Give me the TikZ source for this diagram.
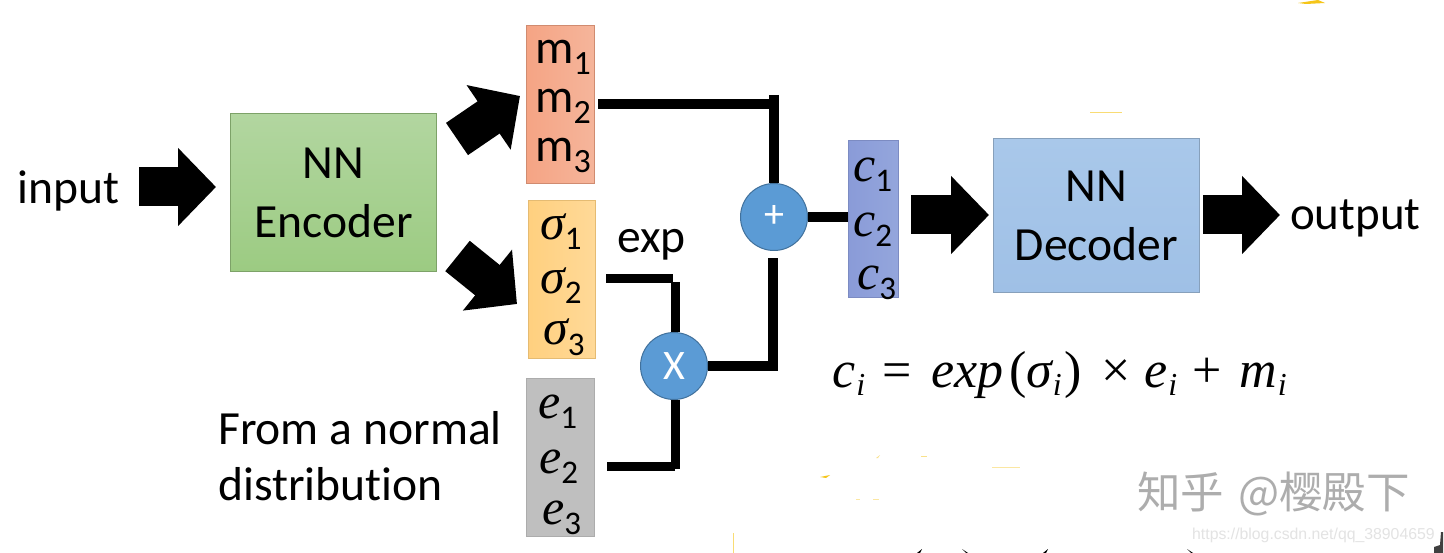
\documentclass[tikz,border=0pt]{standalone}
\usepackage{fontspec}
\setmainfont{Carlito}[Ligatures=NoCommon]
\newfontfamily\eqfont{Liberation Serif}
\newfontfamily\cjkfont{Noto Sans CJK SC}
\newfontfamily\urlfont{Liberation Sans}
\usetikzlibrary{arrows.meta,calc,positioning}
\newcommand{\txsize}{\fontsize{47.6}{58}\selectfont}
\newcommand{\vecsym}[2]{{\fontsize{50}{50}\selectfont\eqfont\itshape #1\raisebox{-10pt}{\fontsize{33}{33}\selectfont\normalfont\rmfamily #2}}}
\newcommand{\vecrom}[2]{{\fontsize{48}{48}\selectfont #1\raisebox{-11pt}{\fontsize{34}{34}\selectfont #2}}}
\newcommand{\subi}{\hspace{1pt}\raisebox{-8pt}{\fontsize{32}{32}\selectfont i}}
\newcommand{\piece}[2]{\makebox[#1pt][l]{#2}}
\definecolor{mcol}{HTML}{F5A484}
\definecolor{mcor}{HTML}{F5B59B}
\definecolor{scol}{HTML}{FFD07F}
\definecolor{scor}{HTML}{FFD998}
\definecolor{ecol}{HTML}{BFBFBF}
\definecolor{ccol}{HTML}{8A9BD8}
\definecolor{ccor}{HTML}{94A6DC}
\definecolor{encl}{HTML}{B2D6A0}
\definecolor{encd}{HTML}{9CCB82}
\definecolor{decl}{HTML}{A9C8EA}
\definecolor{decd}{HTML}{9FC0E6}
\definecolor{opblue}{HTML}{5B9BD5}
\definecolor{opedge}{HTML}{41719C}
\definecolor{specky}{HTML}{F5C518}
\tikzset{
  x=1pt,y=-1pt,
  vecbox/.style={line width=1pt,inner sep=0pt,anchor=north west},
  netbox/.style={line width=1pt,inner sep=0pt,anchor=north west,align=center,font=\txsize},
  textlbl/.style={inner sep=0pt,font=\txsize,text=black},
  sym/.style={inner sep=0pt,anchor=base west},
  opnode/.style={circle,draw=opedge,line width=1pt,fill=opblue,minimum size=67pt,inner sep=0pt,text=white},
  wire/.style={line width=10pt,draw=black,line cap=butt},
  wirethin/.style={line width=9pt,draw=black,line cap=butt},
  blockarrow/.style={line width=39pt,draw=black,line cap=butt,-{Triangle[length=38pt,width=76pt]}},
  speck/.style={fill=specky,draw=none},
}
\begin{document}
\begin{tikzpicture}
\useasboundingbox (0,0) rectangle (1444,553);
\fill[white] (0,0) rectangle (1444,553);

% boxes
\node[netbox,draw=encd!80!black,top color=encl,bottom color=encd,minimum width=206pt,minimum height=158pt] (enc) at (230,113) {\raisebox{-1pt}{NN}\\\raisebox{-2pt}{Encoder}};
\node[netbox,draw=decl!80!black,top color=decl,bottom color=decd,minimum width=206pt,minimum height=154pt] (dec) at (993,138) {\raisebox{-1pt}{NN}\\\raisebox{-2pt}{Decoder}};

\node[vecbox,draw=mcol!85!black,left color=mcol,right color=mcor,minimum width=68pt,minimum height=158pt] (m) at (526,25) {};
\node[vecbox,draw=scol!90!black,left color=scol,right color=scor,minimum width=67pt,minimum height=158pt] (s) at (528,200) {};
\node[vecbox,draw=ecol!90!black,fill=ecol,minimum width=68pt,minimum height=158pt] (e) at (526,378) {};
\node[vecbox,draw=ccol!90!black,left color=ccol,right color=ccor,minimum width=50pt,minimum height=157pt] (c) at (848,140) {};

% box contents
\node[sym] (m1) at (535,64) {\vecrom{m}{1}};
\node[sym] (m2) at (535,113) {\vecrom{m}{2}};
\node[sym] (m3) at (535,162) {\vecrom{m}{3}};
\node[sym] (s1) at (540,240) {\vecsym{σ}{1}};
\node[sym] (s2) at (540,294) {\vecsym{σ}{2}};
\node[sym] (s3) at (543,345) {\vecsym{σ}{3}};
\node[sym] (e1) at (538,418) {\vecsym{e}{1}};
\node[sym] (e2) at (539,473) {\vecsym{e}{2}};
\node[sym] (e3) at (542,524) {\vecsym{e}{3}};
\node[sym] (c1) at (853,182) {\vecsym{c}{1}};
\node[sym] (c2) at (853,237) {\vecsym{c}{2}};
\node[sym] (c3) at (857,290) {\vecsym{c}{3}};

% labels
\node[textlbl,anchor=base west] (input) at (17,204) {input};
\node[textlbl,anchor=base west,font=\fontsize{47}{57}\selectfont] (output) at (1290,230) {output};
\node[textlbl,anchor=base west] (exp) at (617,253) {exp};
\node[textlbl,anchor=base west] (normal) at (218,444) {From a normal};
\node[textlbl,anchor=base west] (normal2) at (218,500) {distribution};
\node[sym] (eq) at (832,388) {\fontsize{52}{52}\selectfont\eqfont\itshape\piece{50}{c\subi}\piece{49}{\upshape =}\piece{78}{exp}\piece{17}{\upshape (}\piece{38}{σ\subi}\piece{37}{\upshape )}\piece{43}{\upshape ×}\piece{48}{e\subi}\piece{47}{\upshape +}m\subi};

% operators
\node[opnode,font=\fontsize{40}{40}\selectfont] (plus) at (774,217) {\raisebox{-4pt}{+}};
\node[opnode,font=\fontsize{42}{42}\selectfont] (times) at (674,366) {\raisebox{-2pt}{X}};

% wires
\coordinate (mout) at (598,104);
\coordinate (mtop) at (774,95);
\coordinate (sout) at (606,279);
\coordinate (scor) at (673,279);
\coordinate (stop) at (675,282);
\coordinate (eout) at (607,466);
\coordinate (ecor) at (675,466);
\coordinate (ebot) at (675,469);
\coordinate (xcor) at (773,366);
\coordinate (xbot) at (773,371);
\coordinate (pbot) at (773,258);
\draw[wire] (mout) -- (mout -| mtop);
\draw[wire] (mtop) -- (plus.north);
\draw[wirethin] (sout) -- (scor);
\draw[wirethin] (stop) -- (times.north -| stop);
\draw[wirethin] (eout) -- (ecor);
\draw[wirethin] (ebot) -- (times.south -| ebot);
\draw[wire] (times.east) -- (xcor);
\draw[wire] (xbot) -- (pbot);
\draw[wire] (plus.east) -- (c.west |- plus.east);

% block arrows
\coordinate (a0) at (139,187);
\coordinate (a0e) at (216,187);
\coordinate (a1) at (457,139);
\coordinate (a1e) at (520,96);
\coordinate (a2) at (457.5,256);
\coordinate (a2e) at (517,304);
\coordinate (a3) at (911,215);
\coordinate (a3e) at (989,215);
\coordinate (a4) at (1203,215);
\coordinate (a4e) at (1280,215);
\draw[blockarrow] (a0) -- (a0e);
\draw[blockarrow] (a1) -- (a1e);
\draw[blockarrow] (a2) -- (a2e);
\draw[blockarrow] (a3) -- (a3e);
\draw[blockarrow] (a4) -- (a4e);

% watermark
\node[inner sep=0pt,anchor=west,text=black!32] (wm) at (1137,494) {\fontsize{43.5}{43.5}\selectfont\cjkfont 知乎\hspace{14pt}@樱殿下};
\node[inner sep=0pt,anchor=west,text=black!11] (url) at (1192,535) {\fontsize{15.8}{15.8}\selectfont\urlfont https://blog.csdn.net/qq\_38904659};

% stray remnants
\fill[speck] (1298,3) -- (1318,0) -- (1325,3) -- (1306,4) -- cycle;
\fill[speck,opacity=.6] (1090,112) rectangle (1122,113);
\fill[speck] (820,477) -- (830,475) -- (826,478) -- cycle;
\fill[speck,opacity=.5] (876,458) -- (880,455) -- (878,458) -- cycle;
\fill[speck,opacity=.5] (921,456) rectangle (927,457);
\fill[speck,opacity=.4] (992,467) rectangle (1020,468);
\fill[speck,opacity=.4] (856,499) rectangle (860,500);
\fill[speck,opacity=.4] (873,499) rectangle (879,500);
\fill[speck,opacity=.6] (733,533) rectangle (734,553);
\fill[black!75] (1434,553) -- (1434,547) -- (1440,545) -- (1441,532) -- (1443,532) -- (1443,553) -- cycle;
\fill[black] (917,553) -- (922,549) -- (920,553) -- cycle;
\fill[black] (966,553) -- (962,549) -- (968,553) -- cycle;
\fill[black] (1043,553) -- (1048,549) -- (1046,553) -- cycle;
\fill[black] (1191,553) -- (1187,549) -- (1193,553) -- cycle;
\end{tikzpicture}
\end{document}
